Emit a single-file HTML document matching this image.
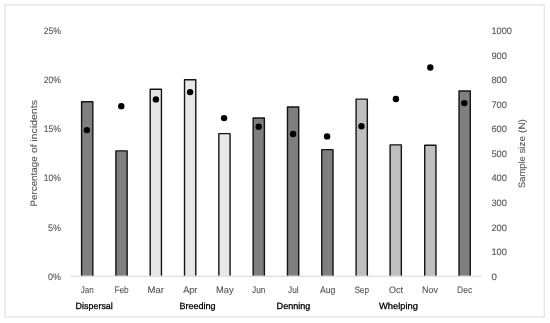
<!DOCTYPE html>
<html><head><meta charset="utf-8"><title>Chart</title>
<style>html,body{margin:0;padding:0;background:#fff}svg{display:block}text{font-family:"Liberation Sans",sans-serif;text-rendering:geometricPrecision}</style></head>
<body>
<svg width="550" height="323" viewBox="0 0 550 323">
<rect x="0" y="0" width="550" height="323" fill="#fff"/>
<rect x="5.0" y="4.9" width="539.2" height="312.0" fill="none" stroke="#dcdcdc" stroke-width="1"/>
<path d="M81.58 275.8V101.75H92.83V275.8" fill="#7f7f7f" stroke="#141414" stroke-width="1.4" stroke-linejoin="round"/>
<path d="M115.89 275.8V150.85H127.14V275.8" fill="#7f7f7f" stroke="#141414" stroke-width="1.4" stroke-linejoin="round"/>
<path d="M150.20 275.8V89.25H161.45V275.8" fill="#e7e7e7" stroke="#141414" stroke-width="1.4" stroke-linejoin="round"/>
<path d="M184.52 275.8V79.75H195.77V275.8" fill="#e7e7e7" stroke="#141414" stroke-width="1.4" stroke-linejoin="round"/>
<path d="M218.83 275.8V133.65H230.08V275.8" fill="#e7e7e7" stroke="#141414" stroke-width="1.4" stroke-linejoin="round"/>
<path d="M253.14 275.8V118.05H264.39V275.8" fill="#7f7f7f" stroke="#141414" stroke-width="1.4" stroke-linejoin="round"/>
<path d="M287.46 275.8V106.95H298.71V275.8" fill="#7f7f7f" stroke="#141414" stroke-width="1.4" stroke-linejoin="round"/>
<path d="M321.77 275.8V149.65H333.02V275.8" fill="#7f7f7f" stroke="#141414" stroke-width="1.4" stroke-linejoin="round"/>
<path d="M356.09 275.8V99.15H367.34V275.8" fill="#bfbfbf" stroke="#141414" stroke-width="1.4" stroke-linejoin="round"/>
<path d="M390.10 275.8V144.85H401.35V275.8" fill="#bfbfbf" stroke="#141414" stroke-width="1.4" stroke-linejoin="round"/>
<path d="M424.71 275.8V145.25H435.96V275.8" fill="#bfbfbf" stroke="#141414" stroke-width="1.4" stroke-linejoin="round"/>
<path d="M459.03 275.8V90.95H470.28V275.8" fill="#7f7f7f" stroke="#141414" stroke-width="1.4" stroke-linejoin="round"/>
<line x1="70.3" y1="276.25" x2="481.4" y2="276.25" stroke="#cfcfcf" stroke-width="0.9"/>
<circle cx="86.9" cy="130.1" r="3.2" fill="#000"/>
<circle cx="121.3" cy="106.15" r="3.2" fill="#000"/>
<circle cx="155.9" cy="99.4" r="3.2" fill="#000"/>
<circle cx="190.1" cy="92.1" r="3.2" fill="#000"/>
<circle cx="224.1" cy="118.1" r="3.2" fill="#000"/>
<circle cx="258.7" cy="126.7" r="3.2" fill="#000"/>
<circle cx="293.1" cy="134.0" r="3.2" fill="#000"/>
<circle cx="327.1" cy="136.4" r="3.2" fill="#000"/>
<circle cx="361.5" cy="126.2" r="3.2" fill="#000"/>
<circle cx="395.9" cy="99.0" r="3.2" fill="#000"/>
<circle cx="430.3" cy="67.5" r="3.2" fill="#000"/>
<circle cx="464.3" cy="103.1" r="3.2" fill="#000"/>
<text x="61" y="279.75" transform="rotate(0.02 61 279.75)" font-size="9.3" fill="#595959" stroke="#595959" stroke-width="0.12" text-anchor="end" textLength="13.0" lengthAdjust="spacingAndGlyphs">0%</text>
<text x="61" y="230.59" transform="rotate(0.02 61 230.59)" font-size="9.3" fill="#595959" stroke="#595959" stroke-width="0.12" text-anchor="end" textLength="13.0" lengthAdjust="spacingAndGlyphs">5%</text>
<text x="61" y="181.43" transform="rotate(0.02 61 181.43)" font-size="9.3" fill="#595959" stroke="#595959" stroke-width="0.12" text-anchor="end" textLength="17.3" lengthAdjust="spacingAndGlyphs">10%</text>
<text x="61" y="132.27" transform="rotate(0.02 61 132.27)" font-size="9.3" fill="#595959" stroke="#595959" stroke-width="0.12" text-anchor="end" textLength="17.3" lengthAdjust="spacingAndGlyphs">15%</text>
<text x="61" y="83.11" transform="rotate(0.02 61 83.11)" font-size="9.3" fill="#595959" stroke="#595959" stroke-width="0.12" text-anchor="end" textLength="17.3" lengthAdjust="spacingAndGlyphs">20%</text>
<text x="61" y="33.95" transform="rotate(0.02 61 33.95)" font-size="9.3" fill="#595959" stroke="#595959" stroke-width="0.12" text-anchor="end" textLength="17.3" lengthAdjust="spacingAndGlyphs">25%</text>
<text x="491.4" y="279.75" transform="rotate(0.02 491.4 279.75)" font-size="9.3" fill="#595959" stroke="#595959" stroke-width="0.12" textLength="5.4" lengthAdjust="spacingAndGlyphs">0</text>
<text x="491.4" y="255.17" transform="rotate(0.02 491.4 255.17)" font-size="9.3" fill="#595959" stroke="#595959" stroke-width="0.12" textLength="15.5" lengthAdjust="spacingAndGlyphs">100</text>
<text x="491.4" y="230.59" transform="rotate(0.02 491.4 230.59)" font-size="9.3" fill="#595959" stroke="#595959" stroke-width="0.12" textLength="15.5" lengthAdjust="spacingAndGlyphs">200</text>
<text x="491.4" y="206.01" transform="rotate(0.02 491.4 206.01)" font-size="9.3" fill="#595959" stroke="#595959" stroke-width="0.12" textLength="15.5" lengthAdjust="spacingAndGlyphs">300</text>
<text x="491.4" y="181.43" transform="rotate(0.02 491.4 181.43)" font-size="9.3" fill="#595959" stroke="#595959" stroke-width="0.12" textLength="15.5" lengthAdjust="spacingAndGlyphs">400</text>
<text x="491.4" y="156.85" transform="rotate(0.02 491.4 156.85)" font-size="9.3" fill="#595959" stroke="#595959" stroke-width="0.12" textLength="15.5" lengthAdjust="spacingAndGlyphs">500</text>
<text x="491.4" y="132.27" transform="rotate(0.02 491.4 132.27)" font-size="9.3" fill="#595959" stroke="#595959" stroke-width="0.12" textLength="15.5" lengthAdjust="spacingAndGlyphs">600</text>
<text x="491.4" y="107.69" transform="rotate(0.02 491.4 107.69)" font-size="9.3" fill="#595959" stroke="#595959" stroke-width="0.12" textLength="15.5" lengthAdjust="spacingAndGlyphs">700</text>
<text x="491.4" y="83.11" transform="rotate(0.02 491.4 83.11)" font-size="9.3" fill="#595959" stroke="#595959" stroke-width="0.12" textLength="15.5" lengthAdjust="spacingAndGlyphs">800</text>
<text x="491.4" y="58.53" transform="rotate(0.02 491.4 58.53)" font-size="9.3" fill="#595959" stroke="#595959" stroke-width="0.12" textLength="15.5" lengthAdjust="spacingAndGlyphs">900</text>
<text x="491.4" y="33.95" transform="rotate(0.02 491.4 33.95)" font-size="9.3" fill="#595959" stroke="#595959" stroke-width="0.12" textLength="20.5" lengthAdjust="spacingAndGlyphs">1000</text>
<text x="80.8" y="292.75" transform="rotate(0.02 80.8 292.75)" font-size="9.3" fill="#595959" stroke="#595959" stroke-width="0.12" textLength="13.1" lengthAdjust="spacingAndGlyphs">Jan</text>
<text x="114.4" y="292.75" transform="rotate(0.02 114.4 292.75)" font-size="9.3" fill="#595959" stroke="#595959" stroke-width="0.12" textLength="14.3" lengthAdjust="spacingAndGlyphs">Feb</text>
<text x="147.6" y="292.75" transform="rotate(0.02 147.6 292.75)" font-size="9.3" fill="#595959" stroke="#595959" stroke-width="0.12" textLength="16.4" lengthAdjust="spacingAndGlyphs">Mar</text>
<text x="183.2" y="292.75" transform="rotate(0.02 183.2 292.75)" font-size="9.3" fill="#595959" stroke="#595959" stroke-width="0.12" textLength="14.2" lengthAdjust="spacingAndGlyphs">Apr</text>
<text x="216.0" y="292.75" transform="rotate(0.02 216.0 292.75)" font-size="9.3" fill="#595959" stroke="#595959" stroke-width="0.12" textLength="17.6" lengthAdjust="spacingAndGlyphs">May</text>
<text x="252.0" y="292.75" transform="rotate(0.02 252.0 292.75)" font-size="9.3" fill="#595959" stroke="#595959" stroke-width="0.12" textLength="13.4" lengthAdjust="spacingAndGlyphs">Jun</text>
<text x="288.0" y="292.75" transform="rotate(0.02 288.0 292.75)" font-size="9.3" fill="#595959" stroke="#595959" stroke-width="0.12" textLength="10.6" lengthAdjust="spacingAndGlyphs">Jul</text>
<text x="320.0" y="292.75" transform="rotate(0.02 320.0 292.75)" font-size="9.3" fill="#595959" stroke="#595959" stroke-width="0.12" textLength="15.4" lengthAdjust="spacingAndGlyphs">Aug</text>
<text x="354.4" y="292.75" transform="rotate(0.02 354.4 292.75)" font-size="9.3" fill="#595959" stroke="#595959" stroke-width="0.12" textLength="14.6" lengthAdjust="spacingAndGlyphs">Sep</text>
<text x="389.0" y="292.75" transform="rotate(0.02 389.0 292.75)" font-size="9.3" fill="#595959" stroke="#595959" stroke-width="0.12" textLength="14.0" lengthAdjust="spacingAndGlyphs">Oct</text>
<text x="422.0" y="292.75" transform="rotate(0.02 422.0 292.75)" font-size="9.3" fill="#595959" stroke="#595959" stroke-width="0.12" textLength="16.0" lengthAdjust="spacingAndGlyphs">Nov</text>
<text x="457.1" y="292.75" transform="rotate(0.02 457.1 292.75)" font-size="9.3" fill="#595959" stroke="#595959" stroke-width="0.12" textLength="15.1" lengthAdjust="spacingAndGlyphs">Dec</text>
<text x="75.6" y="308.7" transform="rotate(0.02 75.6 308.7)" font-size="9.0" fill="#000" stroke="#000" stroke-width="0.28" textLength="37.2" lengthAdjust="spacingAndGlyphs">Dispersal</text>
<text x="179.4" y="308.7" transform="rotate(0.02 179.4 308.7)" font-size="9.0" fill="#000" stroke="#000" stroke-width="0.28" textLength="36.2" lengthAdjust="spacingAndGlyphs">Breeding</text>
<text x="276.6" y="308.7" transform="rotate(0.02 276.6 308.7)" font-size="9.0" fill="#000" stroke="#000" stroke-width="0.28" textLength="33.8" lengthAdjust="spacingAndGlyphs">Denning</text>
<text x="379.0" y="308.7" transform="rotate(0.02 379.0 308.7)" font-size="9.0" fill="#000" stroke="#000" stroke-width="0.28" textLength="39.0" lengthAdjust="spacingAndGlyphs">Whelping</text>
<text transform="translate(36.6,206.5) rotate(-89.98)" font-size="9.3" fill="#595959" stroke="#595959" stroke-width="0.12" textLength="50.1" lengthAdjust="spacingAndGlyphs">Percentage</text>
<text transform="translate(36.6,153.0) rotate(-89.98)" font-size="9.3" fill="#595959" stroke="#595959" stroke-width="0.12" textLength="8.7" lengthAdjust="spacingAndGlyphs">of</text>
<text transform="translate(36.6,141.8) rotate(-89.98)" font-size="9.3" fill="#595959" stroke="#595959" stroke-width="0.12" textLength="41.8" lengthAdjust="spacingAndGlyphs">incidents</text>
<text transform="translate(525.3,188.1) rotate(-89.98)" font-size="9.3" fill="#595959" stroke="#595959" stroke-width="0.12" textLength="31.9" lengthAdjust="spacingAndGlyphs">Sample</text>
<text transform="translate(525.3,153.6) rotate(-89.98)" font-size="9.3" fill="#595959" stroke="#595959" stroke-width="0.12" textLength="17.6" lengthAdjust="spacingAndGlyphs">size</text>
<text transform="translate(525.3,132.9) rotate(-89.98)" font-size="9.3" fill="#595959" stroke="#595959" stroke-width="0.12" textLength="13.7" lengthAdjust="spacingAndGlyphs">(N)</text>
</svg>
</body></html>
